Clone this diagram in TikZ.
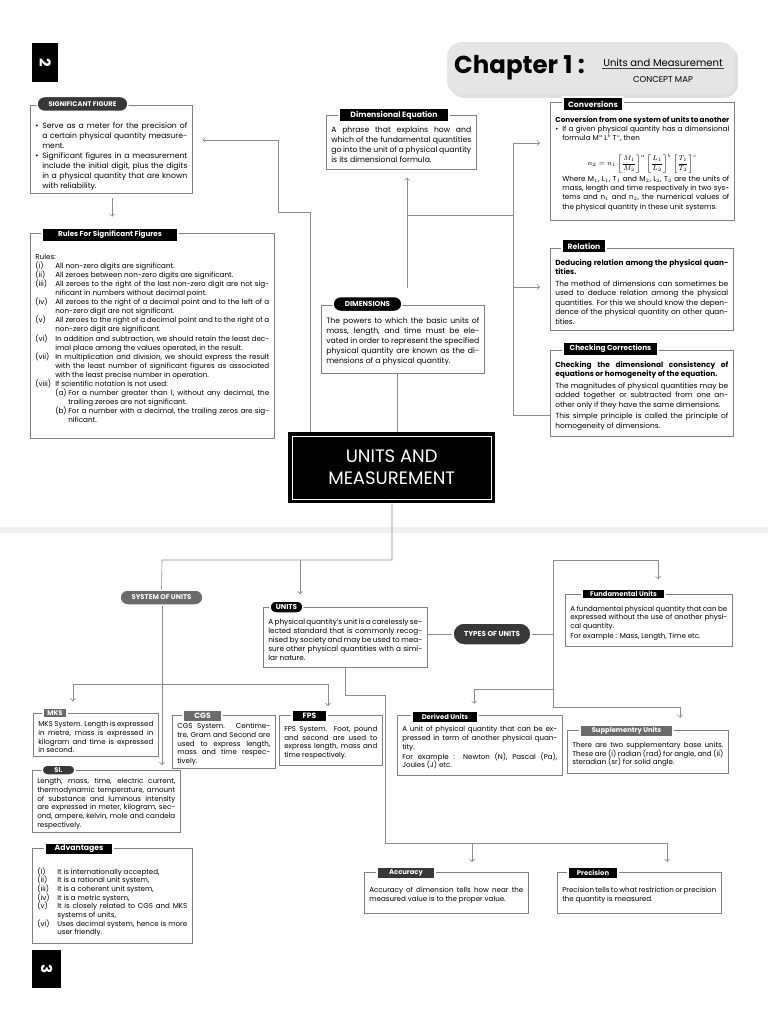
\documentclass[tikz,border=0pt]{standalone}
\usepackage{fontspec}
\setmainfont{Poppins}
\newfontfamily\pop{Poppins}
\usetikzlibrary{arrows.meta,calc,shapes.misc,shadows}
\definecolor{linec}{gray}{0.55}
\definecolor{boxc}{gray}{0.5}
\definecolor{tagdark}{gray}{0.22}
\definecolor{tagmid}{gray}{0.42}
\definecolor{hdrc}{gray}{0.9}
\newcommand\bodyfont{\fontsize{7.7}{9.9}\selectfont}
\newcommand\smallbody{\fontsize{7.1}{8.7}\selectfont}
\newcommand\topstrut{\rule{0pt}{10.5pt}}
\newcommand\bul[1]{\par\noindent\hangindent=7pt\hangafter=1\makebox[7pt][l]{\textbullet}#1\par}
\newcommand\rulesitem[2]{\par\noindent\hangindent=20pt\hangafter=1\makebox[20pt][l]{#1}#2\par}
\newcommand\rulessub[2]{\par\noindent\hangindent=33pt\hangafter=1\hspace*{20pt}\makebox[13pt][l]{#1}#2\par}
\begin{document}
\begin{tikzpicture}[x=1pt,y=-1pt,
  ln/.style={draw=linec, line width=0.6pt},
  arr/.style={ln, -{Straight Barb[length=2.5pt,width=5pt]}},
  box/.style={draw=boxc, line width=0.6pt, fill=white, anchor=north west, inner xsep=5pt, inner ysep=3pt, align=justify, font=\bodyfont},
  tag/.style={fill=black, text=white, draw=white, line width=1.5pt, inner sep=0pt, font=\bfseries\fontsize{7.7}{8}\selectfont},
  smalltag/.style={tag, font=\bfseries\fontsize{6.8}{7}\selectfont},
  pill/.style={tag, rounded rectangle, font=\bfseries\fontsize{7.2}{8}\selectfont},
  pagenum/.style={fill=black, anchor=north west, text=white, font=\pop\bfseries\fontsize{15}{15}\selectfont}
]
\useasboundingbox (0,0) rectangle (768,1024);
\fill[white] (0,0) rectangle (768,1024);
\fill[gray!12] (0,527) rectangle (768,533);

% ---------- header ----------
\node[fill=hdrc, rounded corners=14pt, minimum width=288, minimum height=53, anchor=north west, drop shadow={opacity=0.25}] (hdr) at (447,42) {};
\node[anchor=west, font=\pop\bfseries\fontsize{24.5}{25}\selectfont, inner sep=0pt] (chap) at (454,68) {Chapter 1 :};
\node[font=\pop\fontsize{10}{11}\selectfont, inner sep=1.5pt] (um) at (663,63) {Units and Measurement};
\node[font=\pop\fontsize{8.5}{9}\selectfont, inner sep=1pt] (cm) at (663,80) {CONCEPT MAP};
\draw[black!75, line width=0.6pt] (um.south west) -- (um.south east);

\node[pagenum, minimum width=26, minimum height=39] (p2) at (32,43) {\rotatebox{-90}{2}};
\node[pagenum, minimum width=29, minimum height=38] (p3) at (32,950) {\rotatebox{-90}{3}};

% ---------- top page boxes ----------
\node[box, text width=152, minimum height=83] (sigfig) at (30,105) {\topstrut\bul{Serve as a meter for the precision of a certain physical quantity measurement.}\bul{Significant figures in a measurement include the initial digit, plus the digits in a physical quantity that are known with reliability.}};
\node[pill, fill=tagdark, minimum width=91, minimum height=15, font=\bfseries\fontsize{6.7}{7}\selectfont] (sigfigT) at (82.5,104) {SIGNIFICANT FIGURE};

\node[box, text width=234, minimum height=205, font=\fontsize{7.2}{9.1}\selectfont] (rules) at (30,233) {\topstrut Rules:
\rulesitem{(i)}{All non-zero digits are significant.}
\rulesitem{(ii)}{All zeroes between non-zero digits are significant.}
\rulesitem{(iii)}{All zeroes to the right of the last non-zero digit are not significant in numbers without decimal point.}
\rulesitem{(iv)}{All zeroes to the right of a decimal point and to the left of a non-zero digit are not significant.}
\rulesitem{(v)}{All zeroes to the right of a decimal point and to the right of a non-zero digit are significant.}
\rulesitem{(vi)}{In addition and subtraction, we should retain the least decimal place among the values operated, in the result.}
\rulesitem{(vii)}{In multiplication and division, we should express the result with the least number of significant figures as associated with the least precise number in operation.}
\rulesitem{(viii)}{If scientific notation is not used:}
\rulessub{(a)}{For a number greater than 1, without any decimal, the trailing zeroes are not significant.}
\rulessub{(b)}{For a number with a decimal, the trailing zeros are significant.}};
\node[tag, minimum width=136, minimum height=13, font=\bfseries\fontsize{7.2}{8}\selectfont] (rulesT) at (110,235) {Rules For Significant Figures};

\node[box, text width=140, minimum height=54] (dimeq) at (326,115) {\topstrut A phrase that explains how and which of the fundamental quantities go into the unit of a physical quantity is its dimensional formula.};
\node[tag, minimum width=110, minimum height=14] (dimeqT) at (394,115) {Dimensional Equation};

\node[box, text width=153, minimum height=68] (dimen) at (321,305) {\topstrut The powers to which the basic units of mass, length, and time must be elevated in order to represent the specified physical quantity are known as the dimensions of a physical quantity.};
\node[pill, fill=black, minimum width=69, minimum height=15] (dimenT) at (367.5,304) {DIMENSIONS};

\node[box, text width=174, minimum height=118, font=\fontsize{7.2}{9.3}\selectfont] (conv) at (550,102) {\topstrut{\bfseries Conversion from one system of units to another}
\bul{If a given physical quantity has a dimensional formula $\mathrm{M}^{a}\,\mathrm{L}^{b}\,\mathrm{T}^{c}$, then}
\vspace{11pt}{\centering $\displaystyle n_2=n_1\left[\frac{M_1}{M_2}\right]^{a}\left[\frac{L_1}{L_2}\right]^{b}\left[\frac{T_1}{T_2}\right]^{c}$\par}\vspace{2pt}
{\leftskip=7pt Where M$_1$, L$_1$, T$_1$ and M$_2$, L$_2$, T$_2$ are the units of mass, length and time respectively in two systems and n$_1$ and n$_2$, the numerical values of the physical quantity in these unit systems.\par}};
\node[tag, minimum width=60, minimum height=14] (convT) at (593,104) {Conversions};

\node[box, text width=173, minimum height=82, font=\fontsize{7.4}{9.5}\selectfont] (rel) at (550,248) {\topstrut{\bfseries Deducing relation among the physical quantities.}\par\vspace{2pt}
The method of dimensions can sometimes be used to deduce relation among the physical quantities. For this we should know the dependence of the physical quantity on other quantities.};
\node[tag, minimum width=44, minimum height=14] (relT) at (584,246) {Relation};

\node[box, text width=173, minimum height=86, font=\fontsize{7.4}{9.5}\selectfont] (chk) at (550,350) {\topstrut{\bfseries Checking the dimensional consistency of equations or homogeneity of the equation.}\par\vspace{2pt}
The magnitudes of physical quantities may be added together or subtracted from one another only if they have the same dimensions.\par\vspace{2pt}
This simple principle is called the principle of homogeneity of dimensions.};
\node[tag, minimum width=95, minimum height=13, font=\bfseries\fontsize{7.3}{8}\selectfont] (chkT) at (610.5,349) {Checking Corrections};

\node[fill=black, anchor=north west, minimum width=207, minimum height=71, text=white, align=center, font=\pop\fontsize{18}{22}\selectfont] (main) at (288,432) {UNITS AND\\MEASUREMENT};
\draw[white, line width=0.8pt] ($(main.north west)+(4,4)$) rectangle ($(main.south east)+(-4,-4)$);

% ---------- bottom page boxes ----------
\node[pill, fill=tagmid, minimum width=83, minimum height=15, font=\bfseries\fontsize{6.9}{7}\selectfont] (sys) at (161.5,597.5) {SYSTEM OF UNITS};

\node[box, text width=154, minimum height=60, font=\fontsize{7.3}{9.2}\selectfont] (units) at (263,607) {\topstrut A physical quantity's unit is a carelessly selected standard that is commonly recognised by society and may be used to measure other physical quantities with a similar nature.};
\node[pill, fill=black, minimum width=33, minimum height=12] (unitsT) at (286.5,607) {UNITS};

\node[pill, fill=tagdark, minimum width=78, minimum height=22] (types) at (492,634) {TYPES OF UNITS};

\node[box, text width=157, minimum height=52, font=\smallbody] (fund) at (565,594) {\topstrut A fundamental physical quantity that can be expressed without the use of another physical quantity.\par\vspace{1pt}For example : Mass, Length, Time etc.};
\node[smalltag, minimum width=83, minimum height=10] (fundT) at (623.5,594) {Fundamental Units};

\node[box, text width=115, minimum height=40, font=\smallbody] (mks) at (33,713) {\topstrut MKS System. Length is expressed in metre, mass is expressed in kilogram and time is expressed in second.};
\node[smalltag, fill=tagmid, minimum width=24, minimum height=10] (mksT) at (55,713) {MKS};

\node[box, text width=138, minimum height=62, font=\smallbody] (si) at (32,770) {\topstrut Length, mass, time, electric current, thermodynamic temperature, amount of substance and luminous intensity are expressed in meter, kilogram, second, ampere, kelvin, mole and candela respectively.};
\node[pill, fill=tagdark, minimum width=33, minimum height=10, font=\bfseries\fontsize{6.8}{7}\selectfont] (siT) at (58.5,770) {SI.};

\node[box, text width=150, minimum height=95, font=\smallbody] (adv) at (32,848) {\topstrut
\rulesitem{(I)}{It is internationally accepted,}
\rulesitem{(ii)}{It is a rational unit system,}
\rulesitem{(iii)}{It is a coherent unit system,}
\rulesitem{(iv)}{It is a metric system,}
\rulesitem{(v)}{It is closely related to CGS and MKS systems of units,}
\rulesitem{(vi)}{Uses decimal system, hence is more user friendly.}};
\node[tag, minimum width=68, minimum height=12] (advT) at (79,849) {Advantages};

\node[box, text width=93, minimum height=52, font=\smallbody] (cgs) at (172,715) {\topstrut CGS System. Centimetre, Gram and Second are used to express length, mass and time respectively.};
\node[tag, fill=tagmid, minimum width=39, minimum height=12] (cgsT) at (202.5,716) {CGS};

\node[box, text width=93, minimum height=50, font=\smallbody] (fps) at (279,715) {\topstrut FPS System. Foot, pound and second are used to express length, mass and time respectively.};
\node[tag, minimum width=35, minimum height=12] (fpsT) at (309.5,716) {FPS};

\node[box, text width=155, minimum height=60, font=\smallbody] (der) at (397,715) {\topstrut A unit of physical quantity that can be expressed in term of another physical quantity.\par\vspace{1pt}For example : Newton (N), Pascal (Pa), Joules (J) etc.};
\node[smalltag, minimum width=66, minimum height=11] (derT) at (445,717) {Derived Units};

\node[box, text width=151, minimum height=43, font=\smallbody] (sup) at (567,730) {\topstrut There are two supplementary base units. These are (i) radian (rad) for angle, and (ii) steradian (sr) for solid angle.};
\node[smalltag, fill=tagmid, minimum width=93, minimum height=11] (supT) at (626.5,731) {Supplementry Units};

\node[box, text width=154, minimum height=41, font=\smallbody] (acc) at (364,872) {\topstrut Accuracy of dimension tells how near the measured value is to the proper value.};
\node[smalltag, fill=tagdark, minimum width=58, minimum height=11] (accT) at (406,873) {Accuracy};

\node[box, text width=154, minimum height=41, font=\smallbody] (pre) at (557,872) {\topstrut Precision tells to what restriction or precision the quantity is measured.};
\node[smalltag, minimum width=50, minimum height=11] (preT) at (593,873) {Precision};

% ---------- connectors, top ----------
\coordinate (sf1) at (310,212);
\coordinate (sf2) at (278,212);
\coordinate (sf3) at (278,140);
\draw[arr, shorten >=10pt] (main.north -| 310,0) -- (sf1) -- (sf2) -- (sf3) -- (sigfig.east |- sf3);
\draw[arr, shorten <=5pt, shorten >=11pt] (sigfig.south -| 112,0) -- (rulesT.north -| 112,0);
\draw[ln] (dimen.south -| 397,0) -- (main.north -| 397,0);
\draw[arr, shorten <=8pt, shorten >=8pt] (dimenT.north -| 407,0) -- (dimeq.south -| 407,0);
\coordinate (d1) at (407,215);
\coordinate (d2) at (513,215);
\coordinate (dt) at (513,143);
\coordinate (dm) at (513,287);
\coordinate (db) at (513,415);
\draw[ln] (d1) -- (d2);
\draw[ln] (dt) -- (db);
\draw[arr, shorten >=10pt] (dt) -- (conv.west |- dt);
\draw[arr, shorten >=10pt] (dm) -- (rel.west |- dm);
\draw[ln] (db) -- (chk.west |- db);

% ---------- connectors, bottom ----------
\coordinate (m1) at (392,560);
\coordinate (m2) at (162,560);
\coordinate (m3) at (300,560);
\draw[ln] (main.south -| m1) -- (m1) -- (m2) -- (sys.north);
\draw[arr, shorten >=6pt] (m3) -- (unitsT.north -| m3);
\draw[arr, shorten >=5pt] (sys.south -| 162,0) -- (si.north -| 162,0);
\coordinate (s1) at (73,684);
\coordinate (s2) at (328,684);
\draw[ln] (s1) -- (s2);
\draw[arr, shorten >=6pt] (s1) -- (mksT.north -| s1);
\draw[arr, shorten >=9pt] (s2) -- (fps.north -| s2);
\coordinate (u1) at (345,695);
\coordinate (u2) at (385,695);
\coordinate (a1) at (385,843);
\coordinate (a2) at (472,843);
\coordinate (a3) at (667,843);
\draw[ln] (units.south -| u1) -- (u1) -- (u2) -- (a1) -- (a3);
\draw[arr, shorten >=10pt] (a2) -- (acc.north -| a2);
\draw[arr, shorten >=10pt] (a3) -- (pre.north -| a3);
\draw[ln] (units.east |- types.west) -- (types.west);
\coordinate (t1) at (553,634);
\coordinate (t2) at (553,560);
\coordinate (t3) at (658,560);
\coordinate (t4) at (553,707);
\coordinate (t5) at (680,707);
\coordinate (t6) at (553,689);
\coordinate (t7) at (474,689);
\draw[ln] (types.east) -- (t1);
\draw[ln] (t2) -- (t4);
\draw[arr, shorten >=9pt] (t2) -- (t3) -- (fundT.north -| t3);
\draw[arr, shorten >=7pt] (t4) -- (t5) -- (supT.north -| t5);
\draw[arr, shorten >=7pt] (t6) -- (t7) -- (derT.north -| t7);
\end{tikzpicture}
\end{document}
